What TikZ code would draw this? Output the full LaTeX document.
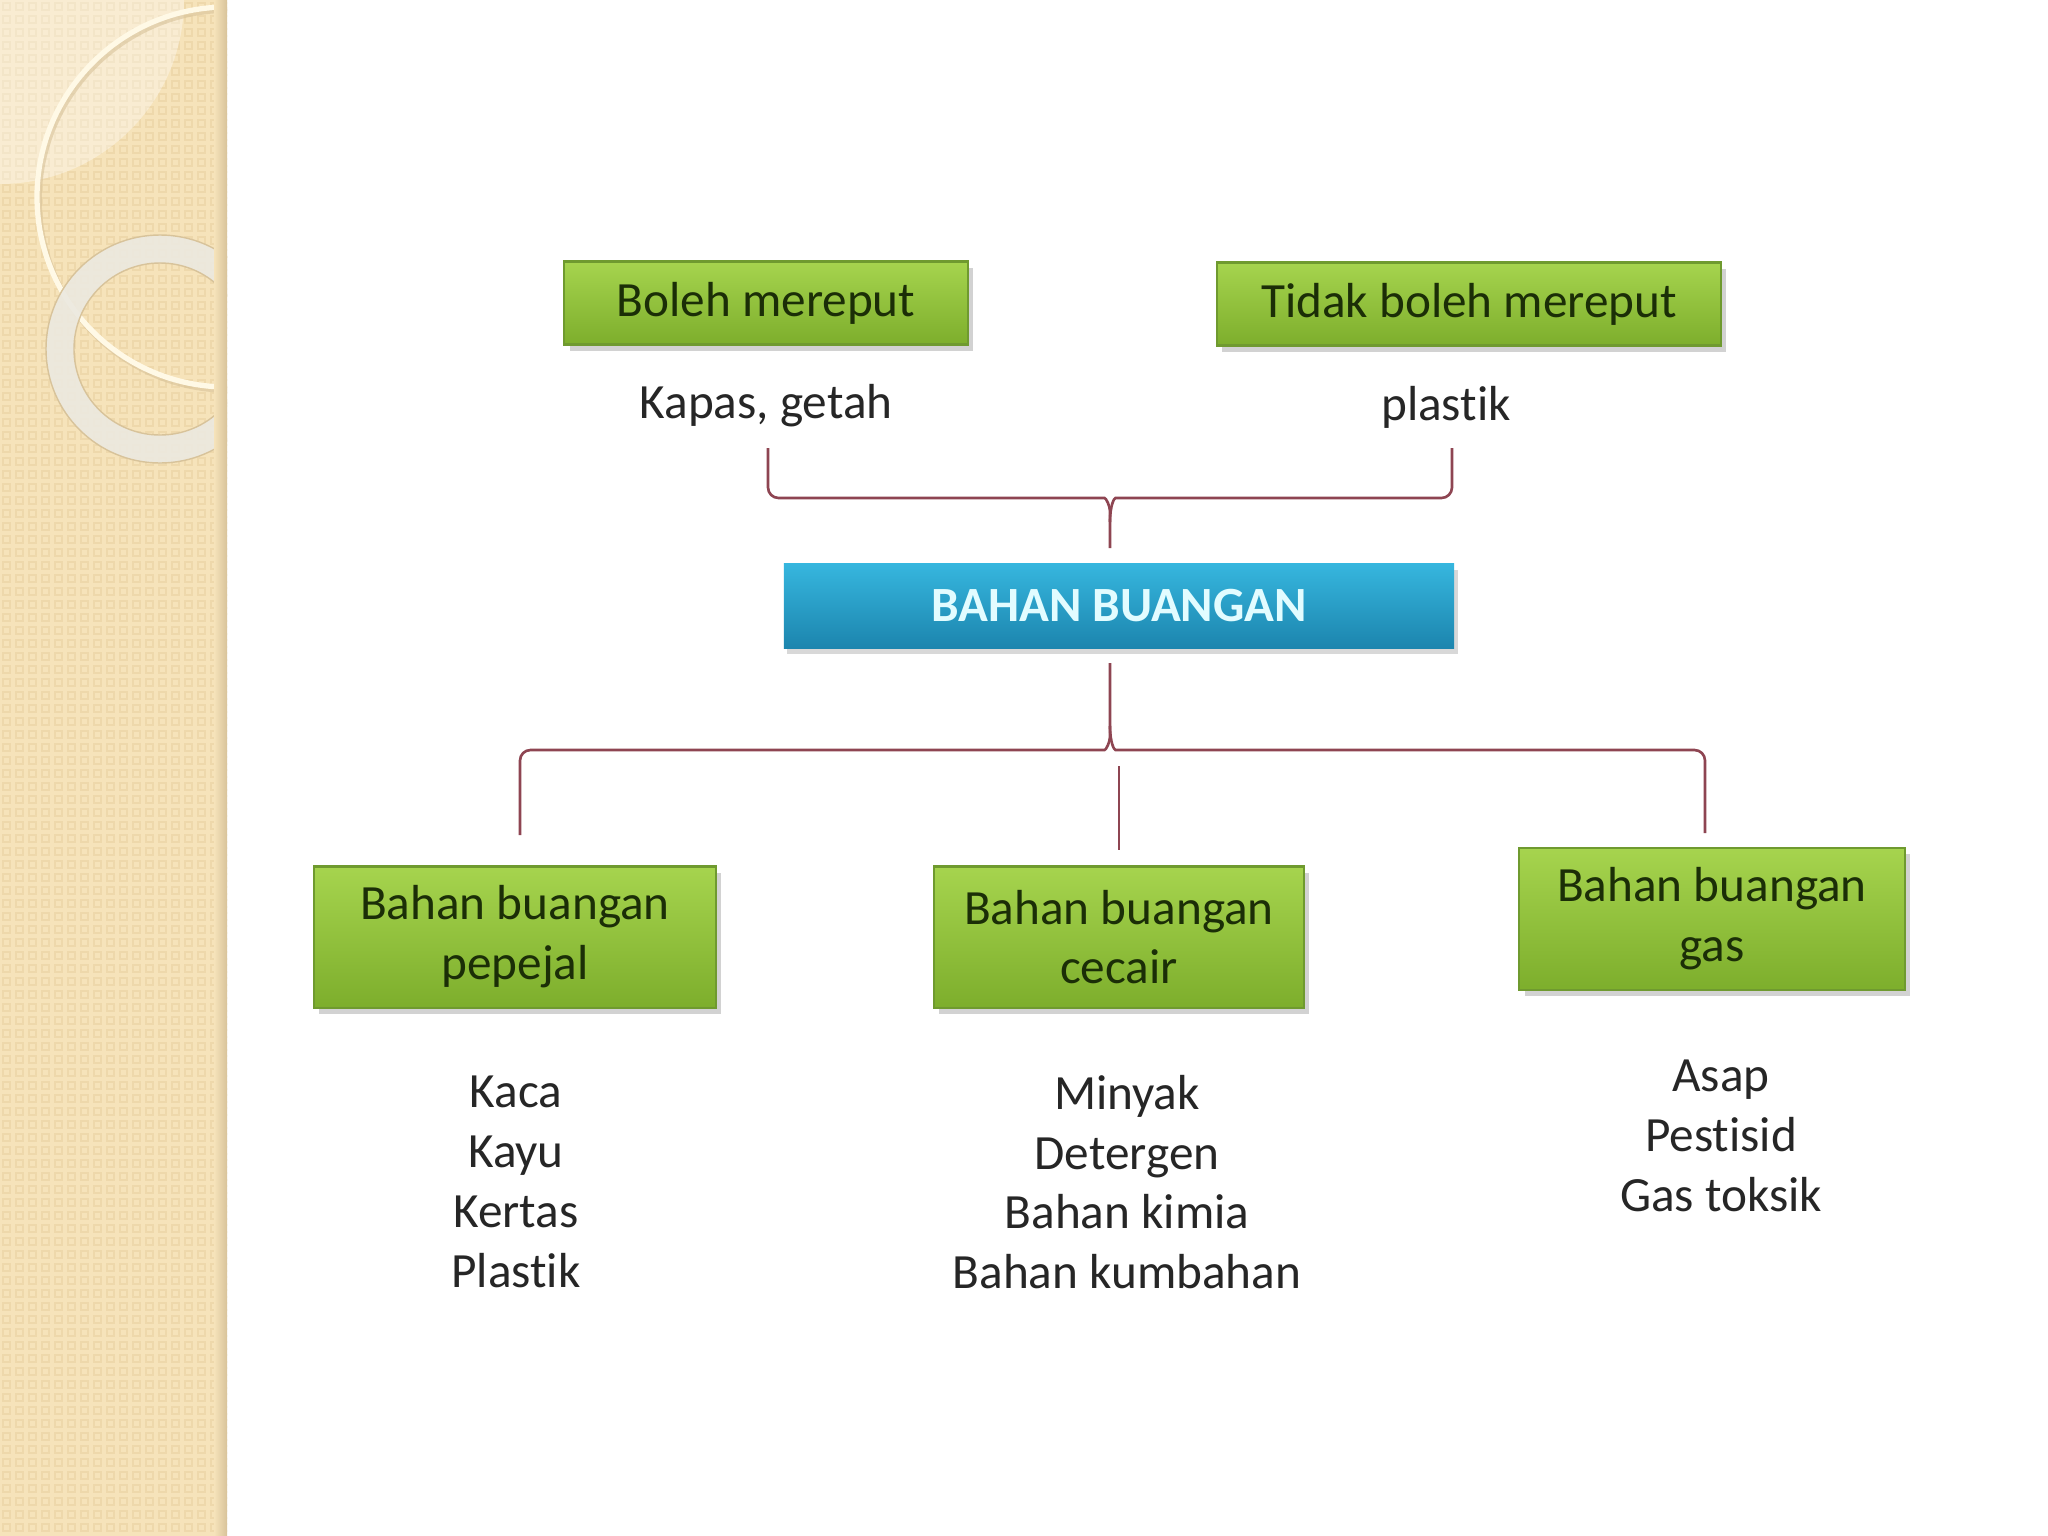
\documentclass[tikz,border=0pt]{standalone}
\usepackage{fontspec}
\setmainfont[Ligatures=NoCommon]{Carlito}
\usepackage{tikz}
\usepackage{xcolor}
\usetikzlibrary{shadows}
\definecolor{stripbg}{HTML}{F6E3BA}
\definecolor{stripdot}{HTML}{EED8AB}
\definecolor{stripedge}{HTML}{D8C39A}
\definecolor{ringgrey}{HTML}{ECE9E0}
\definecolor{cream}{HTML}{FFF9E6}
\definecolor{greentop}{HTML}{A6D44E}
\definecolor{greenbot}{HTML}{7DAE2C}
\definecolor{greenline}{HTML}{6F9A2F}
\definecolor{greentext}{HTML}{1B2E07}
\definecolor{bluetop}{HTML}{36B6DE}
\definecolor{bluebot}{HTML}{1C85AE}
\definecolor{bluetext}{HTML}{E2FCFF}
\definecolor{bracered}{HTML}{8E4552}
\definecolor{listtext}{HTML}{262626}
\tikzstyle{grp} = [rectangle, draw=greenline, line width=0.6pt, top color=greentop, bottom color=greenbot, text=greentext, align=center, inner sep=0pt, drop shadow={shadow xshift=1.5pt, shadow yshift=-1.8pt, opacity=0.35}]
\tikzstyle{inti} = [rectangle, top color=bluetop, bottom color=bluebot, text=bluetext, font=\fontsize{14}{17}\selectfont\bfseries, inner sep=0pt, minimum width=6.7cm, minimum height=0.84cm, drop shadow={shadow xshift=1pt, shadow yshift=-1.8pt, opacity=0.3}]
\tikzstyle{isi} = [text=listtext, align=center, inner sep=0pt]
\tikzstyle{brace} = [draw=bracered, line width=0.75pt]

\begin{document}
\begin{tikzpicture}[x=0.01cm,y=-0.01cm,node distance=1.03cm,font=\fontsize{14}{17}\selectfont]
  \useasboundingbox (0,0) rectangle (2048,1536);
  \fill[white] (0,0) rectangle (2048,1536);

  % left strip
  \fill[stripbg] (0,0) rectangle (227,1536);
  \begin{scope}
    \clip (0,0) rectangle (227,1536);
    \foreach \i in {0,...,17}
      \foreach \j in {0,...,118}
        \draw[stripdot, line width=0.5pt] (\i*13+3,\j*13+3) rectangle +(7,7);
    \fill[white, opacity=0.35] (0,0) circle[radius=184];
    \draw[stripedge, line width=1.6pt, opacity=0.6] (229,200) circle[radius=190];
    \draw[cream, line width=1.5pt] (227,197) circle[radius=190];
    \draw[ringgrey, line width=8pt, opacity=0.9] (160,349) circle[radius=100];
    \draw[stripedge, line width=0.4pt] (160,349) circle[radius=114];
    \draw[stripedge, line width=0.4pt] (160,349) circle[radius=86];
    \shade[left color=stripbg, right color=stripedge] (214,0) rectangle (227,1536);
  \end{scope}

  % top row
  \node[grp, minimum width=4.03cm, minimum height=0.83cm] (boleh) at (766,303) {Boleh mereput};
  \node[grp, minimum width=5.04cm, minimum height=0.83cm] (tidak) at (1469,304) {Tidak boleh mereput};
  \node[isi] (kapas) [below of=boleh] {Kapas, getah};
  \node[isi] (plastik) [below of=tidak, xshift=-0.23cm] {plastik};

  % centre
  \node[inti] (bahan) at (1119,606) {BAHAN BUANGAN};

  % bottom row
  \node[grp, minimum width=4.02cm, minimum height=1.41cm] (pepejal) at (515,937) {Bahan buangan\\pepejal};
  \node[grp, minimum width=3.70cm, minimum height=1.41cm] (cecair) at (1119,937) {Bahan buangan\\cecair};
  \node[grp, minimum width=3.85cm, minimum height=1.42cm] (gas) at (1712,919) {Bahan buangan\\gas};

  \node[isi] (pepejalisi) at (516,1182) {Kaca\\Kayu\\Kertas\\Plastik};
  \node[isi] (cecairisi) at (1127,1182) {Minyak\\Detergen\\Bahan kimia\\Bahan kumbahan};
  \node[isi] (gasisi) at (1721,1136) {Asap\\Pestisid\\Gas toksik};

  % braces
  \coordinate (kapas_b) at (768,448);
  \coordinate (plastik_b) at (1452,448);
  \coordinate (bahan_t) at (1110,548);
  \coordinate (bahan_b) at (1110,663);
  \coordinate (pepejal_t) at (520,835);
  \coordinate (gas_t) at (1705,833);
  \coordinate (cecair_t) at (1119,850);
  \coordinate (cecair_s) at (1119,766);

  \draw[brace, rounded corners=3pt] (kapas_b) |- (1094,498) .. controls (1106,498) and (1110,506) .. (1110,522) -- (bahan_t);
  \draw[brace, rounded corners=3pt] (plastik_b) |- (1126,498) .. controls (1114,498) and (1110,506) .. (1110,522);
  \draw[brace, rounded corners=3pt] (bahan_b) -- (1110,726) .. controls (1110,742) and (1106,750) .. (1094,750) -| (pepejal_t);
  \draw[brace, rounded corners=3pt] (1110,726) .. controls (1110,742) and (1114,750) .. (1126,750) -| (gas_t);
  \draw[brace] (cecair_s) -- (cecair_t);
\end{tikzpicture}
\end{document}
